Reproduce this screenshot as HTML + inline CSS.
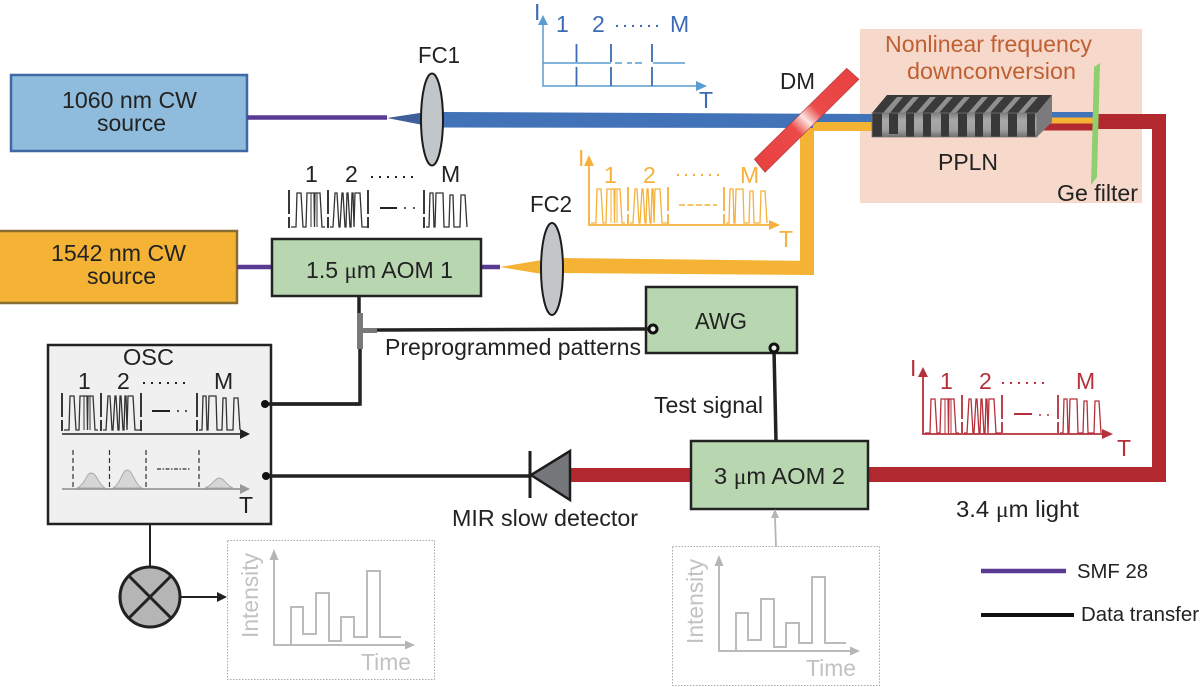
<!DOCTYPE html>
<html>
<head>
<meta charset="utf-8">
<style>
html,body{margin:0;padding:0;background:#fff;}
svg{display:block;}
text{font-family:"Liberation Sans",sans-serif;fill:#222;}
</style>
</head>
<body>
<svg width="1200" height="687" viewBox="0 0 1200 687" xmlns="http://www.w3.org/2000/svg">
<defs>
<linearGradient id="dmg" x1="0" y1="1" x2="1" y2="0">
<stop offset="0" stop-color="#e8403f"/><stop offset=".4" stop-color="#ea4a49"/><stop offset=".5" stop-color="#fbe4e2"/><stop offset=".6" stop-color="#ea4a49"/><stop offset="1" stop-color="#e8403f"/>
</linearGradient>
<linearGradient id="grey" x1="0" y1="0" x2="0" y2="1">
<stop offset="0" stop-color="#7f7f7f"/><stop offset=".3" stop-color="#a8a8a8"/><stop offset=".7" stop-color="#a0a0a0"/><stop offset="1" stop-color="#6f6f6f"/>
</linearGradient>
<g id="burst" fill="none">
<path d="M2,37 H7 L8,3 H12 L14,37 H17 L18,3 H25 L25.500,37 L26,3 H31 L33,37 H36"/>
<path d="M28,3 V37 M22,3 V37" stroke-width="1"/>
<path d="M41,37 H44 L46,3 H48 L50,37 L51,37 L53,3 H54 L56,37 H57 L58,3 H59 L61,37 H62 L63,3 H64 L65,37 L66,3 H71 L73,37 H78"/>
<path d="M137,37 H140 L141,3 H144 L145,37 H146 L147,3 H154 L155,37 H160 L161,5 H164 L165,37 H171 L172,5 H176 L178,37"/>
</g>
<g id="ticks" fill="none">
<path d="M39,0 V24 M39,27 V38 M79,0 V24 M79,27 V38 M135,0 V24 M135,27 V38"/>
</g>
<g id="plot">
<rect x="227.500" y="540.500" width="207" height="139" fill="none" stroke="#aaa" stroke-width="1" stroke-dasharray="1.500 1.500"/>
<path d="M274,553 V645 H408" fill="none" stroke="#bbb" stroke-width="2"/>
<path d="M274,549 L278.500,560 L269.500,560 Z M415,645 L405,640.500 L405,649.500 Z" fill="#b5b5b5"/>
<path d="M291,645 V607 H303 V634 H316 V593 H329 V641 H341 V617 H354 V637 H367 V571 H380 V637 H401" fill="none" stroke="#bbb" stroke-width="2"/>
<text transform="translate(258,638) rotate(-90)" font-size="23" style="fill:#c2c2c2" textLength="85" lengthAdjust="spacingAndGlyphs">Intensity</text>
<text x="361" y="670" font-size="23" style="fill:#c2c2c2" textLength="50" lengthAdjust="spacingAndGlyphs">Time</text>
</g>
</defs>

<!-- peach box -->
<rect x="860" y="29" width="282" height="174" fill="#f7d9cb"/>

<!-- source boxes -->
<rect x="11" y="75" width="236" height="76" fill="#8fbcdc" stroke="#3f69a5" stroke-width="2.500"/>
<text x="62" y="108" font-size="23" textLength="135" lengthAdjust="spacingAndGlyphs">1060 nm CW</text>
<text x="97" y="131" font-size="23" textLength="69" lengthAdjust="spacingAndGlyphs">source</text>

<rect x="-3" y="231" width="240" height="72" fill="#f5b335" stroke="#8a6c35" stroke-width="2.500"/>
<text x="51" y="261" font-size="23" textLength="135" lengthAdjust="spacingAndGlyphs">1542 nm CW</text>
<text x="87" y="284" font-size="23" textLength="69" lengthAdjust="spacingAndGlyphs">source</text>

<!-- fibres -->
<path d="M247,117.500 H387" stroke="#5b3a93" stroke-width="4.500"/>
<path d="M237,267 H272 M481,267 H500" stroke="#5b3a93" stroke-width="4.500"/>
<path d="M387,118 L423,112.500 L423,125 Z" fill="#3f5f98"/>
<path d="M500,267 L542,260 L542,274 Z" fill="#f5b335"/>

<!-- beams -->
<path d="M563,258 L814,261 L814,275 L563,273 Z" fill="#f5b335"/>
<path d="M800,122 H872 V131 H814 V275 H800 Z" fill="#f5b335"/>
<path d="M443,112 L872,114 V122 H813 V128 L443,127.500 Z" fill="#4272b8"/>
<path d="M1040,112 H1098 V117.500 H1040 Z" fill="#4272b8"/>
<path d="M1040,117.500 H1098 V123.500 H1040 Z" fill="#f5b335"/>
<path d="M1035,123.500 H1098 V130.500 H1035 Z" fill="#b2282f"/>
<path d="M1096,114 H1166 V482 H867 V467 H1152 V129 H1096 Z" fill="#b2282f"/>
<path d="M570,468 H692 V482 H570 Z" fill="#b2282f"/>

<!-- PPLN -->
<polygon points="872,113 887,95 1052,95 1037,113" fill="#3a3a3a"/>
<g fill="#8f8f8f">
<polygon points="883,113 897,97 903,97 890,113"/><polygon points="899,113 913,97 919,97 905,113"/>
<polygon points="916,113 930,97 936,97 922,113"/><polygon points="933,113 947,97 953,97 939,113"/>
<polygon points="950,113 964,97 970,97 956,113"/><polygon points="968,113 982,97 988,97 974,113"/>
<polygon points="984,113 998,97 1004,97 990,113"/><polygon points="1001,113 1015,97 1021,97 1007,113"/>
<polygon points="1018,113 1032,97 1038,97 1024,113"/>
</g>
<rect x="872" y="113" width="165" height="24" fill="url(#grey)"/>
<g fill="#383838">
<rect x="872" y="113" width="10" height="24"/>
<rect x="889" y="113" width="9" height="21"/><rect x="906" y="113" width="8" height="24"/>
<rect x="923" y="113" width="8" height="24"/><rect x="941" y="113" width="8" height="24"/>
<rect x="958" y="113" width="9" height="24"/><rect x="975" y="113" width="8" height="24"/>
<rect x="991" y="113" width="9" height="24"/><rect x="1008" y="113" width="9" height="24"/>
<rect x="1027" y="113" width="8" height="24"/>
</g>
<polygon points="1037,113 1052,95 1052,122 1037,137" fill="#7b7b7d"/>
<path d="M872,113 H1037 V137 H872 Z" fill="none" stroke="#777" stroke-width=".8"/>

<!-- Ge filter -->
<polygon points="1094,67 1100,63 1097,177 1091,185" fill="#8fcf6f"/>

<!-- DM -->
<polygon points="846.700,68.300 859,79.300 765,172.300 754.300,159.300" fill="url(#dmg)" stroke="#a8383a" stroke-width=".6"/>

<!-- lenses -->
<ellipse cx="432" cy="119.500" rx="11" ry="46" fill="#c3c6c8" stroke="#1c1c1c" stroke-width="2"/>
<ellipse cx="552" cy="269" rx="11" ry="46" fill="#c3c6c8" stroke="#1c1c1c" stroke-width="2"/>

<!-- green boxes -->
<rect x="272" y="239" width="209" height="57" fill="#b8d7b0" stroke="#222" stroke-width="2.500"/>
<text x="306" y="278" font-size="23" textLength="147" lengthAdjust="spacingAndGlyphs">1.5 <tspan font-family="'Liberation Serif',serif">μ</tspan>m AOM 1</text>
<rect x="646" y="287" width="151" height="66" fill="#b8d7b0" stroke="#222" stroke-width="2.500"/>
<text x="695" y="329" font-size="23" textLength="52" lengthAdjust="spacingAndGlyphs">AWG</text>
<rect x="691" y="441" width="177" height="68" fill="#b8d7b0" stroke="#222" stroke-width="2.500"/>
<text x="714" y="484" font-size="23" textLength="131" lengthAdjust="spacingAndGlyphs">3 <tspan font-family="'Liberation Serif',serif">μ</tspan>m AOM 2</text>

<!-- data lines -->
<path d="M359,296 V313" stroke="#222" stroke-width="3.500"/>
<path d="M360,349 V404 H265" fill="none" stroke="#222" stroke-width="3.500"/>
<rect x="357" y="313" width="6" height="36" fill="#77797b"/>
<rect x="363" y="328" width="14" height="5" fill="#77797b"/>
<path d="M377,330 L650,329" stroke="#222" stroke-width="3.500"/>
<path d="M774,350 L776,441" stroke="#222" stroke-width="3.500"/>
<circle cx="653" cy="329" r="4" fill="#e8efe4" stroke="#111" stroke-width="3"/>
<circle cx="774" cy="348" r="4" fill="#e8efe4" stroke="#111" stroke-width="3"/>

<!-- OSC -->
<rect x="48" y="345" width="223" height="179" fill="#f0f0f0" stroke="#222" stroke-width="2.500"/>
<path d="M360,404 H265" stroke="#222" stroke-width="3.500"/>
<path d="M266,476 H530" stroke="#222" stroke-width="3.500"/>
<circle cx="265" cy="404" r="4" fill="#111"/>
<circle cx="266" cy="476" r="4" fill="#111"/>
<text x="123" y="365" font-size="23" textLength="51" lengthAdjust="spacingAndGlyphs">OSC</text>
<text x="78" y="389" font-size="23">1</text>
<text x="117" y="389" font-size="23">2</text>
<text x="214" y="389" font-size="23">M</text>
<path d="M143,383 H186" stroke="#222" stroke-width="2" stroke-dasharray="2 6"/>
<g stroke="#333" stroke-width="1.300"><use href="#burst" x="62" y="393"/></g>
<g stroke="#222" stroke-width="1.800">
<path d="M62,393 V417 M62,420 V431" fill="none"/><use href="#ticks" x="62" y="393"/>
</g>
<path d="M152,411 H170" stroke="#222" stroke-width="2"/>
<path d="M177,411 H179 M185,411 H187" stroke="#222" stroke-width="1.600"/>
<path d="M62,434 H245" stroke="#222" stroke-width="1.600"/>
<polygon points="250,434 240,429 240,439" fill="#222"/>
<g fill="#d6d6d6" stroke="#aaa" stroke-width="1">
<path d="M77,488 C86,484 86,473 91,473 C97,473 98,484 105,488 Z"/>
<path d="M113,488 C121,484 122,470 127,470 C133,470 134,484 142,488 Z"/>
<path d="M205,488 C213,485 215,478 219,478 C224,478 226,485 233,488 Z"/>
</g>
<path d="M73,450 V488 M109.500,450 V488 M146,450 V488 M199,450 V488" stroke="#333" stroke-width="1.200" stroke-dasharray="5 3"/>
<path d="M157,469 H190" stroke="#333" stroke-width="1.200" stroke-dasharray="4 1.500 1.500 1.500"/>
<path d="M62,489 H245" stroke="#999" stroke-width="1.800"/>
<polygon points="250,489 240,484 240,494" fill="#999"/>
<text x="239" y="513" font-size="23">T</text>

<!-- mixer -->
<path d="M150,524 V567" stroke="#222" stroke-width="2"/>
<circle cx="150" cy="597" r="30" fill="#b5b5b5" stroke="#222" stroke-width="3"/>
<path d="M129,576 L171,618 M171,576 L129,618" stroke="#222" stroke-width="3"/>
<path d="M181,597 H220" stroke="#222" stroke-width="2"/>
<polygon points="227,597 217,592 217,602" fill="#222"/>
<use href="#plot"/>

<!-- second plot -->
<use href="#plot" x="445" y="6"/>
<path d="M776,547 L775,518" stroke="#b5b5b5" stroke-width="1.800"/>
<polygon points="775,509 771,518 779,518" fill="#b5b5b5"/>

<!-- detector -->
<polygon points="570,451 570,500 531,475" fill="#75777a" stroke="#1c1c1c" stroke-width="2.500"/>
<path d="M530,451 V498" stroke="#1c1c1c" stroke-width="3"/>

<!-- blue chart -->
<path d="M543,22 V86 H700" fill="none" stroke="#5a9bd0" stroke-width="1.500"/>
<polygon points="543,15 538,25 548,25" fill="#5a9bd0"/>
<polygon points="707,86 696,81 696,91" fill="#5a9bd0"/>
<path d="M543,63 H611 M615,63 H622 M627,63 H632 M635,63 H642 M653,63 H685" stroke="#5a9bd0" stroke-width="1.500"/>
<path d="M576.500,44 V62 M576.500,67 V86 M611,44 V62 M611,67 V86 M652,44 V62 M652,67 V86" stroke="#3b6cb5" stroke-width="1.800"/>
<text x="534" y="20" font-size="23" style="fill:#3b6cb5">I</text>
<text x="556" y="32" font-size="23" style="fill:#3b6cb5">1</text>
<text x="592" y="32" font-size="23" style="fill:#3b6cb5">2</text>
<text x="670" y="32" font-size="23" style="fill:#3b6cb5">M</text>
<text x="699" y="108" font-size="23" style="fill:#3b6cb5">T</text>
<path d="M616,26 H659" stroke="#3b6cb5" stroke-width="2" stroke-dasharray="2 6"/>

<!-- yellow chart -->
<g stroke="#f6b13a" stroke-width="1.300"><use href="#burst" x="589" y="186"/></g>
<g stroke="#f6b13a" stroke-width="1.800"><use href="#ticks" x="589" y="187"/></g>
<path d="M589,162 V225 H773" fill="none" stroke="#f6b13a" stroke-width="1.800"/>
<polygon points="589,155 584,166 594,166" fill="#f6b13a"/>
<polygon points="780,225 769,220 769,230" fill="#f6b13a"/>
<path d="M679,205 H717" stroke="#f6b13a" stroke-width="1.500" stroke-dasharray="6 2.500"/>
<path d="M677,175 H720" stroke="#f6b13a" stroke-width="2" stroke-dasharray="2 6"/>
<text x="578" y="166" font-size="23" style="fill:#f6b13a">I</text>
<text x="604" y="183" font-size="23" style="fill:#f6b13a">1</text>
<text x="643" y="183" font-size="23" style="fill:#f6b13a">2</text>
<text x="740" y="183" font-size="23" style="fill:#f6b13a">M</text>
<text x="779" y="247" font-size="23" style="fill:#f6b13a">T</text>

<!-- red chart -->
<g stroke="#b5303a" stroke-width="1.300"><use href="#burst" x="923" y="396"/></g>
<g stroke="#b5303a" stroke-width="1.800"><use href="#ticks" x="923" y="395"/></g>
<path d="M923,373 V434 H1105" fill="none" stroke="#b5303a" stroke-width="1.800"/>
<polygon points="923,367 918,377 928,377" fill="#b5303a"/>
<polygon points="1113,434 1102,429 1102,439" fill="#b5303a"/>
<path d="M1014,414 H1032" stroke="#b5303a" stroke-width="2"/>
<path d="M1039,415 H1041 M1047,415 H1049" stroke="#b5303a" stroke-width="1.600"/>
<path d="M1002,383 H1045" stroke="#b5303a" stroke-width="2" stroke-dasharray="2 6"/>
<text x="910" y="376" font-size="23" style="fill:#b5303a">I</text>
<text x="940" y="389" font-size="23" style="fill:#b5303a">1</text>
<text x="979" y="389" font-size="23" style="fill:#b5303a">2</text>
<text x="1076" y="389" font-size="23" style="fill:#b5303a">M</text>
<text x="1117" y="456" font-size="23" style="fill:#b5303a">T</text>

<!-- black pattern above AOM1 -->
<g stroke="#333" stroke-width="1.300"><use href="#burst" x="289" y="190"/></g>
<g stroke="#222" stroke-width="1.800">
<path d="M289,190 V214 M289,217 V228" fill="none"/><use href="#ticks" x="289" y="190"/>
</g>
<path d="M380,208 H397" stroke="#222" stroke-width="2"/>
<path d="M404,208 H406 M413,208 H415" stroke="#222" stroke-width="1.600"/>
<path d="M371,177 H414" stroke="#222" stroke-width="2" stroke-dasharray="2 6"/>
<text x="305" y="182" font-size="23">1</text>
<text x="345" y="182" font-size="23">2</text>
<text x="441" y="182" font-size="23">M</text>

<!-- labels -->
<text x="418" y="63" font-size="23" textLength="42" lengthAdjust="spacingAndGlyphs">FC1</text>
<text x="530" y="212" font-size="23" textLength="42" lengthAdjust="spacingAndGlyphs">FC2</text>
<text x="780" y="89" font-size="23" textLength="35" lengthAdjust="spacingAndGlyphs">DM</text>
<text x="885" y="52" font-size="23" style="fill:#bf6034" textLength="207" lengthAdjust="spacingAndGlyphs">Nonlinear frequency</text>
<text x="907" y="79" font-size="23" style="fill:#bf6034" textLength="169" lengthAdjust="spacingAndGlyphs">downconversion</text>
<text x="938" y="170" font-size="23" textLength="60" lengthAdjust="spacingAndGlyphs">PPLN</text>
<text x="1057" y="201" font-size="23" textLength="81" lengthAdjust="spacingAndGlyphs">Ge filter</text>
<text x="385" y="355" font-size="23" textLength="256" lengthAdjust="spacingAndGlyphs">Preprogrammed patterns</text>
<text x="654" y="413" font-size="23" textLength="109" lengthAdjust="spacingAndGlyphs">Test signal</text>
<text x="452" y="526" font-size="23" textLength="186" lengthAdjust="spacingAndGlyphs">MIR slow detector</text>
<text x="956" y="517" font-size="23" textLength="123" lengthAdjust="spacingAndGlyphs">3.4 <tspan font-family="'Liberation Serif',serif">μ</tspan>m light</text>

<!-- legend -->
<path d="M981,571 H1066" stroke="#5b3a93" stroke-width="4.500"/>
<text x="1077" y="578" font-size="20.400" textLength="71" lengthAdjust="spacingAndGlyphs">SMF 28</text>
<path d="M981,615 H1074" stroke="#111" stroke-width="4"/>
<text x="1081" y="621" font-size="20.400" textLength="118" lengthAdjust="spacingAndGlyphs">Data transfer</text>
</svg>
</body>
</html>
